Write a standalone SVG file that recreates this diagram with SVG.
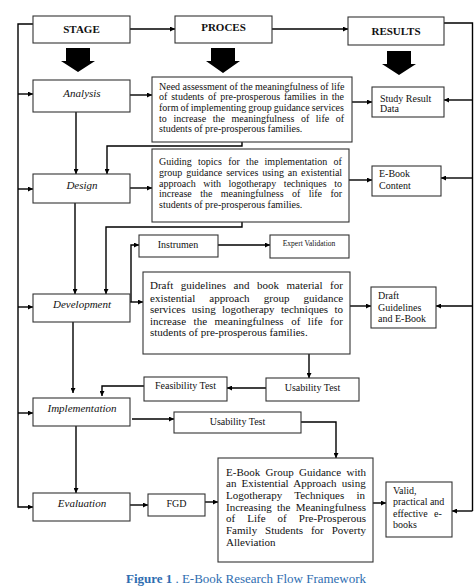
<svg xmlns="http://www.w3.org/2000/svg" width="474" height="586" viewBox="0 0 474 586">
<defs>
<marker id="ah" viewBox="0 0 10 10" refX="10" refY="5" markerWidth="6" markerHeight="5" orient="auto" markerUnits="userSpaceOnUse">
<path d="M0,0 L10,5 L0,10 z" fill="#000"/>
</marker>
<style>
.box{fill:#fff;stroke:#333;stroke-width:1.1}
.t{font-family:"Liberation Serif","Times New Roman",serif;fill:#111}
.hd{font-size:11px;font-weight:bold;text-anchor:middle}
.st{font-size:11px;font-style:italic;text-anchor:middle}
.b10{font-size:10px}
.b11{font-size:11px}
.c{text-anchor:middle}
.ln{fill:none;stroke:#000;stroke-width:1.4}
.la{fill:none;stroke:#000;stroke-width:1.4;marker-end:url(#ah)}
.big{fill:#000}
</style>
</defs>
<rect width="474" height="586" fill="#fff"/>

<g id="connectors">
<path class="la" d="M130,29 H175"/>
<path class="la" d="M272,29 H348"/>
<path class="ln" d="M444,23 H472.5 V511" stroke-width="2"/>
<path class="la" d="M472.5,100 H444"/>
<path class="la" d="M472.5,178 H441"/>
<path class="la" d="M472.5,306 H436"/>
<path class="la" d="M472.5,511 H452"/>
<path class="la" d="M33,24 H18 V507 H33"/>
<path class="la" d="M18,94 H33"/>
<path class="la" d="M18,189 H33"/>
<path class="la" d="M18,307 H33"/>
<path class="la" d="M18,413 H33"/>
<path class="la" d="M130,95 H152"/>
<path class="la" d="M352,102 H372"/>
<path class="la" d="M76,112 V174"/>
<path class="la" d="M242,142 V146 H107 V174"/>
<path class="la" d="M130,188 H152"/>
<path class="la" d="M349,180 H372"/>
<path class="la" d="M75,203 V294"/>
<path class="la" d="M242,222 V227 H106 V294"/>
<path class="la" d="M130,302 H143"/>
<path class="la" d="M131,302 V245 H139"/>
<path class="la" d="M218,245 H270"/>
<path class="la" d="M350,306 H371"/>
<path class="la" d="M309,354 V378"/>
<path class="la" d="M266,388 H227"/>
<path class="la" d="M144,386 H102 V396"/>
<path class="la" d="M73,322 V393"/>
<path class="la" d="M132,419 H174"/>
<path class="la" d="M301,422 H336 V458"/>
<path class="la" d="M76,426 V493"/>
<path class="la" d="M130,505 H148"/>
<path class="la" d="M205,502 H218"/>
<path class="la" d="M373,503 H386"/>
<polygon class="big" points="66,48 90,48 90,61 95,61 78,72 61,61 66,61"/>
<polygon class="big" points="211,48 235,48 235,61 240,61 223,73 206,61 211,61"/>
<polygon class="big" points="387,51 411,51 411,64 416,64 399,75 382,64 387,64"/>
</g>

<g id="stage">
<rect class="box" x="33" y="16" width="97" height="27"/>
<text class="t hd" x="81.5" y="33">STAGE</text>
</g>
<g id="proces">
<rect class="box" x="175" y="16" width="97" height="27"/>
<text class="t hd" x="223.5" y="31" font-size="13px">PROCES</text>
</g>
<g id="results">
<rect class="box" x="348" y="17" width="96" height="28"/>
<text class="t hd" x="396" y="35">RESULTS</text>
</g>

<g id="analysis">
<rect class="box" x="33" y="80" width="97" height="32"/>
<text class="t st" x="82" y="97">Analysis</text>
</g>
<g id="need">
<rect class="box" x="152" y="77" width="200" height="65"/>
<text class="t b10" x="159" y="89.5">Need assessment of the meaningfulness of life</text>
<text class="t b10" x="159" y="100.3" word-spacing="1.4">of students of pre-prosperous families in the</text>
<text class="t b10" x="159" y="111" word-spacing="-0.5">form of implementing group guidance services</text>
<text class="t b10" x="159" y="121.7" word-spacing="4.1">to increase the meaningfulness of life of</text>
<text class="t b10" x="159" y="132.3">students of pre-prosperous families.</text>
</g>
<g id="study">
<rect class="box" x="372" y="87" width="72" height="30"/>
<text class="t b10" x="380" y="101.5">Study Result</text>
<text class="t b10" x="380" y="112">Data</text>
</g>

<g id="design">
<rect class="box" x="33" y="174" width="97" height="29"/>
<text class="t st" x="82" y="189">Design</text>
</g>
<g id="guiding">
<rect class="box" x="152" y="149" width="197" height="73"/>
<text class="t b10" x="159" y="165" word-spacing="3.76">Guiding topics for the implementation of</text>
<text class="t b10" x="159" y="176" word-spacing="1.36">group guidance services using an existential</text>
<text class="t b10" x="159" y="186.7" word-spacing="5.06">approach with logotherapy techniques to</text>
<text class="t b10" x="159" y="197.3" word-spacing="5.9">increase the meaningfulness of life for</text>
<text class="t b10" x="159" y="207.7">students of pre-prosperous families.</text>
</g>
<g id="ebookcontent">
<rect class="box" x="372" y="166" width="69" height="30"/>
<text class="t b10" x="379" y="177.3">E-Book</text>
<text class="t b10" x="379" y="189">Content</text>
</g>

<g id="instrumen">
<rect class="box" x="139" y="235" width="79" height="22"/>
<text class="t b10 c" x="178" y="248">Instrumen</text>
</g>
<g id="expert">
<rect class="box" x="270" y="235" width="79" height="23"/>
<text class="t c" x="309" y="246" font-size="7.5px">Expert Validation</text>
</g>

<g id="development">
<rect class="box" x="33" y="294" width="97" height="28"/>
<text class="t st" x="82" y="308.3">Development</text>
</g>
<g id="draft">
<rect class="box" x="143" y="272" width="207" height="82"/>
<text class="t b11" x="150" y="289.3" word-spacing="4.8">Draft guidelines and book material for</text>
<text class="t b11" x="150" y="301.7" word-spacing="11.35">existential approach group guidance</text>
<text class="t b11" x="150" y="313.3" word-spacing="3.65">services using logotherapy techniques to</text>
<text class="t b11" x="150" y="324.5" word-spacing="4.8">increase the meaningfulness of life for</text>
<text class="t b11" x="150" y="336">students of pre-prosperous families.</text>
</g>
<g id="draftguidelines">
<rect class="box" x="371" y="287" width="65" height="41"/>
<text class="t b10" x="378" y="299.3">Draft</text>
<text class="t b10" x="378" y="311">Guidelines</text>
<text class="t b10" x="378" y="322">and E-Book</text>
</g>

<g id="usability1">
<rect class="box" x="266" y="378" width="93" height="23"/>
<text class="t b10 c" x="312.5" y="391">Usability Test</text>
</g>
<g id="feasibility">
<rect class="box" x="144" y="377" width="83" height="24"/>
<text class="t b10 c" x="185.5" y="389">Feasibility Test</text>
</g>
<g id="implementation">
<rect class="box" x="33" y="398" width="97" height="28"/>
<text class="t st" x="82" y="412">Implementation</text>
</g>
<g id="usability2">
<rect class="box" x="174" y="412" width="127" height="21"/>
<text class="t b10 c" x="237.5" y="425">Usability Test</text>
</g>

<g id="ebook">
<rect class="box" x="218" y="458" width="155" height="104"/>
<text class="t b11" x="226" y="475.5" word-spacing="2.58">E-Book Group Guidance with</text>
<text class="t b11" x="226" y="487.3" word-spacing="2.45">an Existential Approach using</text>
<text class="t b11" x="226" y="499" word-spacing="9.5">Logotherapy Techniques in</text>
<text class="t b11" x="226" y="510.5" word-spacing="2.5">Increasing the Meaningfulness</text>
<text class="t b11" x="226" y="522.3" word-spacing="9.29">of Life of Pre-Prosperous</text>
<text class="t b11" x="226" y="534" word-spacing="5.2">Family Students for Poverty</text>
<text class="t b11" x="226" y="545.5">Alleviation</text>
</g>
<g id="evaluation">
<rect class="box" x="33" y="493" width="97" height="28"/>
<text class="t st" x="82" y="507">Evaluation</text>
</g>
<g id="fgd">
<rect class="box" x="148" y="494" width="57" height="22"/>
<text class="t b10 c" x="176.5" y="507">FGD</text>
</g>
<g id="valid">
<rect class="box" x="386" y="482" width="66" height="55"/>
<text class="t b10" x="393" y="493.5">Valid,</text>
<text class="t b10" x="393" y="505">practical and</text>
<text class="t b10" x="393" y="516.7" word-spacing="3.75">effective e-</text>
<text class="t b10" x="393" y="528">books</text>
</g>

<text x="246" y="583" text-anchor="middle" font-family="Liberation Serif, serif" font-size="13" fill="#2E6DB0" textLength="240" lengthAdjust="spacing"><tspan font-weight="bold">Figure 1</tspan> . E-Book Research Flow Framework</text>
</svg>
